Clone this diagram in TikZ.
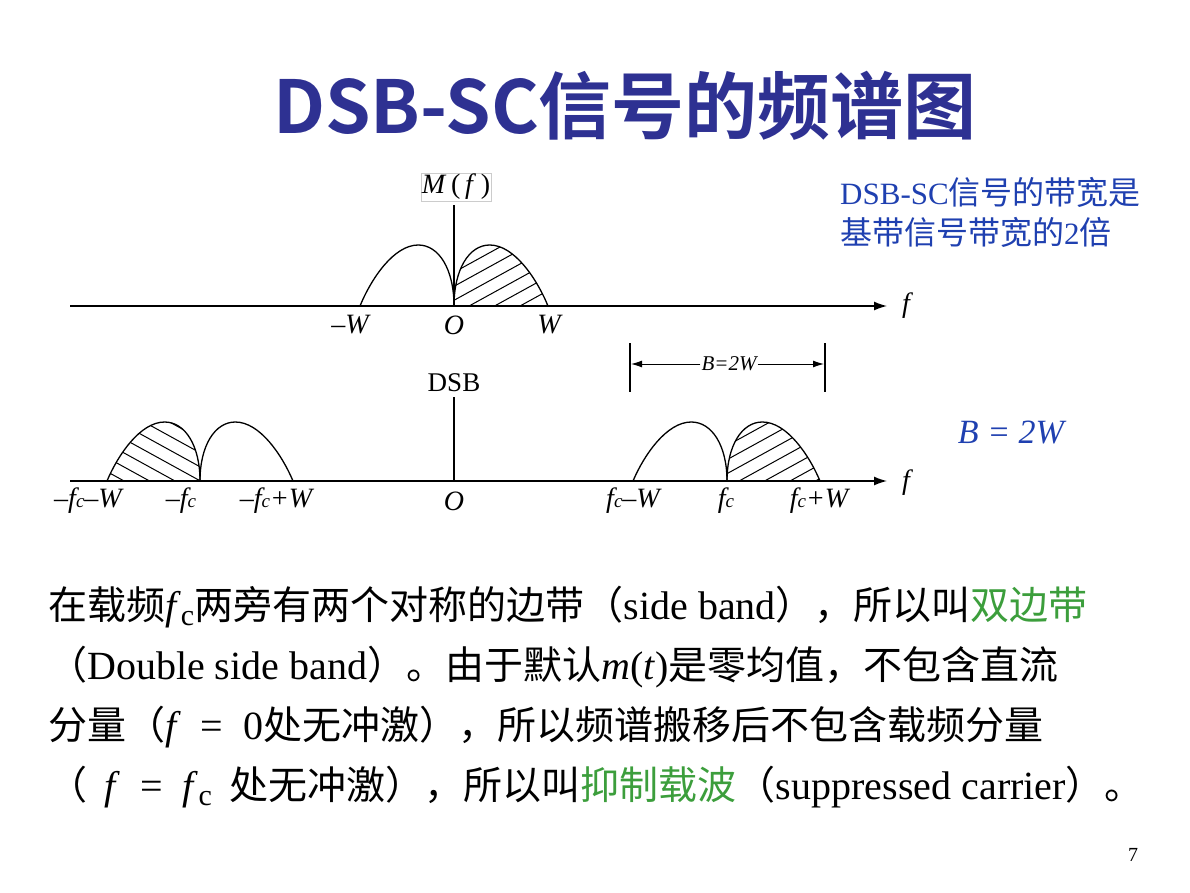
\documentclass[tikz,border=0pt]{standalone}
\usepackage{fontspec}
\setmainfont{Liberation Serif}
\newfontfamily\cjk{Noto Sans CJK SC}
\newfontfamily\cjkb{Noto Sans CJK SC Bold}
\usetikzlibrary{arrows.meta}
\definecolor{tblue}{HTML}{2E3192}
\definecolor{nblue}{HTML}{1F40B0}
\definecolor{tgreen}{HTML}{3C9E3C}
\newcommand\lobeL[4]{%
  (#1,#2) .. controls (#1,#2-0.6*#4) and (#1+0.16*#3,#2-#4) .. (#1+0.38*#3,#2-#4)
  .. controls (#1+0.64*#3,#2-#4) and (#1+0.88*#3,#2-0.45*#4) .. (#1+#3,#2)}
\newcommand\lobeRt[4]{%
  (#1+#3,#2) .. controls (#1+#3,#2-0.6*#4) and (#1+0.84*#3,#2-#4) .. (#1+0.62*#3,#2-#4)
  .. controls (#1+0.36*#3,#2-#4) and (#1+0.12*#3,#2-0.45*#4) .. (#1,#2)}
\newcommand\subc{\textrm{\fontsize{19}{19}\selectfont c}}
\tikzset{ax/.style={line width=1.4pt,-{Latex[length=13pt,width=9pt]}},
  lb/.style={line width=1.3pt},
  hl/.style={line width=1pt},
  lab/.style={font=\fontsize{28}{30}\selectfont\itshape, anchor=center, inner sep=0pt},
  body/.style={font=\fontsize{40}{42}\selectfont, anchor=west, inner sep=0pt}}
\newcommand\ck[1]{{\cjk\fontsize{39}{42}\selectfont #1}}
\begin{document}
\begin{tikzpicture}[x=1pt,y=-1pt]
\useasboundingbox (0,0) rectangle (1190,893);
\node[font=\cjkb\fontsize{73}{76}\selectfont, text=tblue] (title) at (625,106) {DSB-SC信号的频谱图};
% top spectrum
\draw[ax] (70,306) -- (887,306);
\node[lab] (tf) at (906,306) {f};
\draw[lb] (454,306) -- (454,205);
\node[draw=gray!40, line width=0.4pt, inner sep=1pt, font=\fontsize{28}{30}\selectfont] (mf) at (456,187) {\textit{M}\,(\,\textit{f}\,)};
\begin{scope}
\clip \lobeL{454}{306}{94}{61} -- cycle;
\foreach \c in {0,14,...,200} \draw[hl] (440,306+\c-40) -- (560,306+\c-40-66);
\end{scope}
\draw[lb] \lobeL{454}{306}{94}{61};
\draw[lb] \lobeRt{360}{306}{94}{61};
\node[lab] (mw) at (350,325) {\textrm{–}W};
\node[lab] (o1) at (454,325) {O};
\node[lab] (w1) at (549,325) {W};
% bandwidth marker
\draw[lb] (630,343) -- (630,392);
\draw[lb] (825,343) -- (825,392);
\node[font=\fontsize{21}{22}\selectfont\itshape, inner sep=1pt, fill=white] (bw) at (729,364) {B\textrm{=}2W};
\draw[line width=1pt,-{Latex[length=11pt,width=7pt]}] (bw.west) -- (631,364);
\draw[line width=1pt,-{Latex[length=11pt,width=7pt]}] (bw.east) -- (824,364);
% bottom spectrum
\draw[ax] (70,481) -- (887,481);
\node[lab] (bf) at (906,483) {f};
\draw[lb] (454,481) -- (454,397);
\node[font=\fontsize{27}{28}\selectfont] (dsb) at (454,383) {DSB};
\begin{scope}
\clip \lobeL{727}{481}{93}{59} -- cycle;
\foreach \c in {0,14,...,200} \draw[hl] (710,481+\c-40) -- (830,481+\c-40-66);
\end{scope}
\draw[lb] \lobeL{727}{481}{93}{59};
\draw[lb] \lobeRt{633}{481}{94}{59};
\begin{scope}
\clip \lobeRt{107}{481}{93}{59} -- cycle;
\foreach \c in {0,14,...,200} \draw[hl] (95,481+\c-100) -- (215,481+\c-100+66);
\end{scope}
\draw[lb] \lobeRt{107}{481}{93}{59};
\draw[lb] \lobeL{200}{481}{93}{59};
\node[lab] (l1) at (88,501) {\textrm{–}f\subc\textrm{–}W};
\node[lab] (l2) at (181,501) {\textrm{–}f\subc};
\node[lab] (l3) at (276,501) {\textrm{–}f\subc\textrm{+}W};
\node[lab] (o2) at (454,501) {O};
\node[lab] (r1) at (633,501) {f\subc\textrm{–}W};
\node[lab] (r2) at (726,501) {f\subc};
\node[lab] (r3) at (819,501) {f\subc\textrm{+}W};
% notes
\node[font=\fontsize{34}{36}\selectfont\itshape, text=nblue] (b2w) at (1011,432) {B \textrm{=} 2W};
\node[anchor=west, text=nblue, inner sep=0pt, font=\fontsize{31}{34}\selectfont] (n1) at (840,192) {DSB-SC{\cjk\fontsize{32}{34}\selectfont 信号的带宽是}};
\node[anchor=west, text=nblue, inner sep=0pt, font=\fontsize{31}{34}\selectfont] (n2) at (840,232) {{\cjk\fontsize{32}{34}\selectfont 基带信号带宽的}2{\cjk\fontsize{32}{34}\selectfont 倍}};
% paragraph
\node[body] (p1) at (48,607) {\ck{在载频}\textit{f}\textsubscript{\fontsize{30}{30}\selectfont c}\ck{两旁有两个对称的边带（}side band\ck{），所以叫}{\color{tgreen}\ck{双边带}}};
\node[body] (p2) at (48,667) {\ck{（}Double side band\ck{）。由于默认}\textit{m}(\textit{t})\ck{是零均值，不包含直流}};
\node[body] (p3) at (48,727) {\ck{分量（}\textit{f}\ \ =\ \ 0\ck{处无冲激），所以频谱搬移后不包含载频分量}};
\node[body] (p4) at (48,787) {\ck{（\ \ }\textit{f}\ \ =\ \ \textit{f}\textsubscript{\fontsize{30}{30}\selectfont c}\ck{\ \ 处无冲激），所以叫}{\color{tgreen}\ck{抑制载波}}\ck{（}suppressed carrier\ck{）。}};
\node[font=\fontsize{20}{22}\selectfont] (pg) at (1133,855) {7};
\end{tikzpicture}
\end{document}
